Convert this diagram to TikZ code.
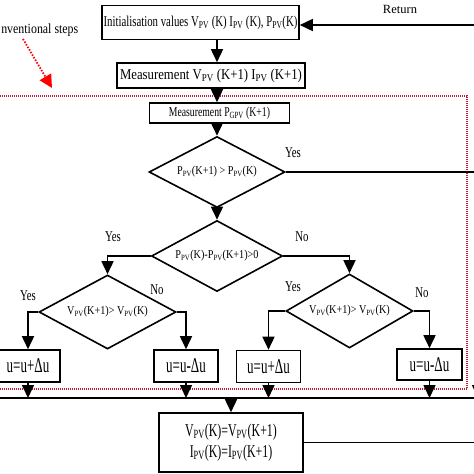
\documentclass[tikz,border=0pt]{standalone}
\usepackage{fontspec}
\setmainfont{Liberation Serif}
\newfontfamily\fontA[FakeStretch=0.85]{Liberation Serif}
\newfontfamily\fontB[FakeStretch=0.72]{Liberation Serif}
\newfontfamily\fontC[FakeStretch=0.62]{Liberation Serif}
\newfontfamily\fontD[FakeStretch=0.66]{Liberation Serif}
\usetikzlibrary{shapes.geometric,arrows.meta}
\definecolor{rougept}{RGB}{200,25,50}
\newcommand{\sPV}{\textsubscript{PV}}
\begin{document}
\begin{tikzpicture}[x=1pt, y=-1pt, line width=1.6pt,
  fleche/.style={-{Triangle[width=12pt,length=13pt]}},
  boite/.style={draw, inner sep=0pt},
  losange/.style={draw, diamond, aspect=2, inner sep=0pt, font=\fontA\fontsize{12}{14}\selectfont},
  maju/.style={boite, font=\fontC\fontsize{21}{21}\selectfont},
  etiq/.style={font=\fontB\fontsize{15}{15}\selectfont}]
  \useasboundingbox (0,0) rectangle (474,474);
  \clip (0,0) rectangle (474,474);

  % Cadre pointille rouge des etapes classiques
  \draw[rougept, line width=1.4pt, dash pattern=on 1pt off 1pt]
    (-20,96) -- (467,96) -- (467,389) -- (-20,389);

  % Texte et fleche rouge en haut a gauche
  \node[anchor=west, inner sep=0pt, font=\fontA\fontsize{14}{14}\selectfont] (conv) at (0.5,30) {nventional steps};
  \coordinate (convA) at (23,39);
  \coordinate (convB) at (52,88);
  \draw[red, line width=1.8pt, dash pattern=on 1.5pt off 1.5pt,
    -{Triangle[width=13pt,length=13pt]}] (convA) -- (convB);

  % Boites du haut
  \node[boite, minimum width=197pt, minimum height=34pt, font=\fontB\fontsize{15}{15}\selectfont]
    (init) at (200.5,22.5) {Initialisation values V\sPV{} (K) I\sPV{} (K), P\sPV(K)};
  \node[boite, minimum width=188pt, minimum height=25pt, font=\fontA\fontsize{15}{15}\selectfont]
    (mes) at (211,75.5) {Measurement V\sPV{} (K+1) I\sPV{} (K+1)};
  \node[boite, minimum width=140pt, minimum height=20pt, font=\fontB\fontsize{13.5}{13.5}\selectfont]
    (gpv) at (219.5,113) {Measurement P\textsubscript{GPV} (K+1)};

  % Losanges de decision
  \node[losange, minimum width=136pt, minimum height=71pt] (d1) at (217,172) {P\sPV(K+1) > P\sPV(K)};
  \node[losange, minimum width=131pt, minimum height=71pt] (d2) at (217,256) {P\sPV(K)-P\sPV(K+1)>0};
  \node[losange, minimum width=137pt, minimum height=74pt] (d3) at (107.5,312) {V\sPV(K+1)> V\sPV(K)};
  \node[losange, minimum width=127pt, minimum height=74pt] (d4) at (349.5,311) {V\sPV(K+1)> V\sPV(K)};

  % Boites de mise a jour de u
  \node[maju, minimum width=64pt, minimum height=32pt] (b1) at (28,366) {u=u+Δu};
  \node[maju, minimum width=64pt, minimum height=32pt] (b2) at (186,366) {u=u-Δu};
  \node[maju, minimum width=64pt, minimum height=32pt] (b3) at (268.5,366.5) {u=u+Δu};
  \node[maju, minimum width=65pt, minimum height=31pt] (b4) at (429.5,364.5) {u=u-Δu};

  % Boite finale
  \node[boite, minimum width=144pt, minimum height=59pt, align=center,
    font=\fontD\fontsize{18}{21}\selectfont]
    (fin) at (231,442.5) {V\sPV(K)=V\sPV(K+1)\\ I\sPV(K)=I\sPV(K+1)};

  % Points de passage
  \coordinate (ret) at (480,25);
  \coordinate (oui1) at (478,172);
  \coordinate (busG) at (-10,398);
  \coordinate (busD) at (480,398);

  % Fleches principales
  \draw[fleche] (ret) -- (init.east |- ret);
  \draw[fleche] (init.south -| d1) -- (mes.north -| d1);
  \draw[fleche] (mes.south -| d1) -- (gpv.north -| d1);
  \draw[fleche] (gpv.south -| d1) -- (d1.north);
  \draw[fleche] (d1.south) -- (d2.north);
  \draw (d1.east) -- (oui1);
  \draw[fleche] (oui1) -- (oui1 |- busG);
  \draw[fleche] (d2.west) -| (d3.north);
  \draw[fleche] (d2.east) -| (d4.north);
  \draw[fleche] (d3.west) -| (b1.north);
  \draw[fleche] (d3.east) -| (b2.north);
  \draw[fleche] (d4.west) -| (b3.north);
  \draw[fleche] (d4.east) -| (b4.north);
  \foreach \b in {b1,b2,b3,b4}
    \draw[fleche] (\b.south) -- (\b.south |- busG);

  % Ligne collectrice et boite finale
  \draw (busG) -- (busD);
  \draw[fleche] (fin.north |- busG) -- (fin.north);
  \draw (fin.east) -- (fin.east -| ret);

  % Etiquettes
  \node[font=\fontsize{12.5}{12.5}\selectfont] (retour) at (400,9) {Return};
  \node[etiq] (oui1t) at (293,153) {Yes};
  \node[etiq] (oui2t) at (113,237) {Yes};
  \node[etiq] (non2t) at (302,237) {No};
  \node[etiq] (oui3t) at (28,296) {Yes};
  \node[etiq] (non3t) at (157,290) {No};
  \node[etiq] (oui4t) at (293,287) {Yes};
  \node[etiq] (non4t) at (422,293) {No};
\end{tikzpicture}
\end{document}
